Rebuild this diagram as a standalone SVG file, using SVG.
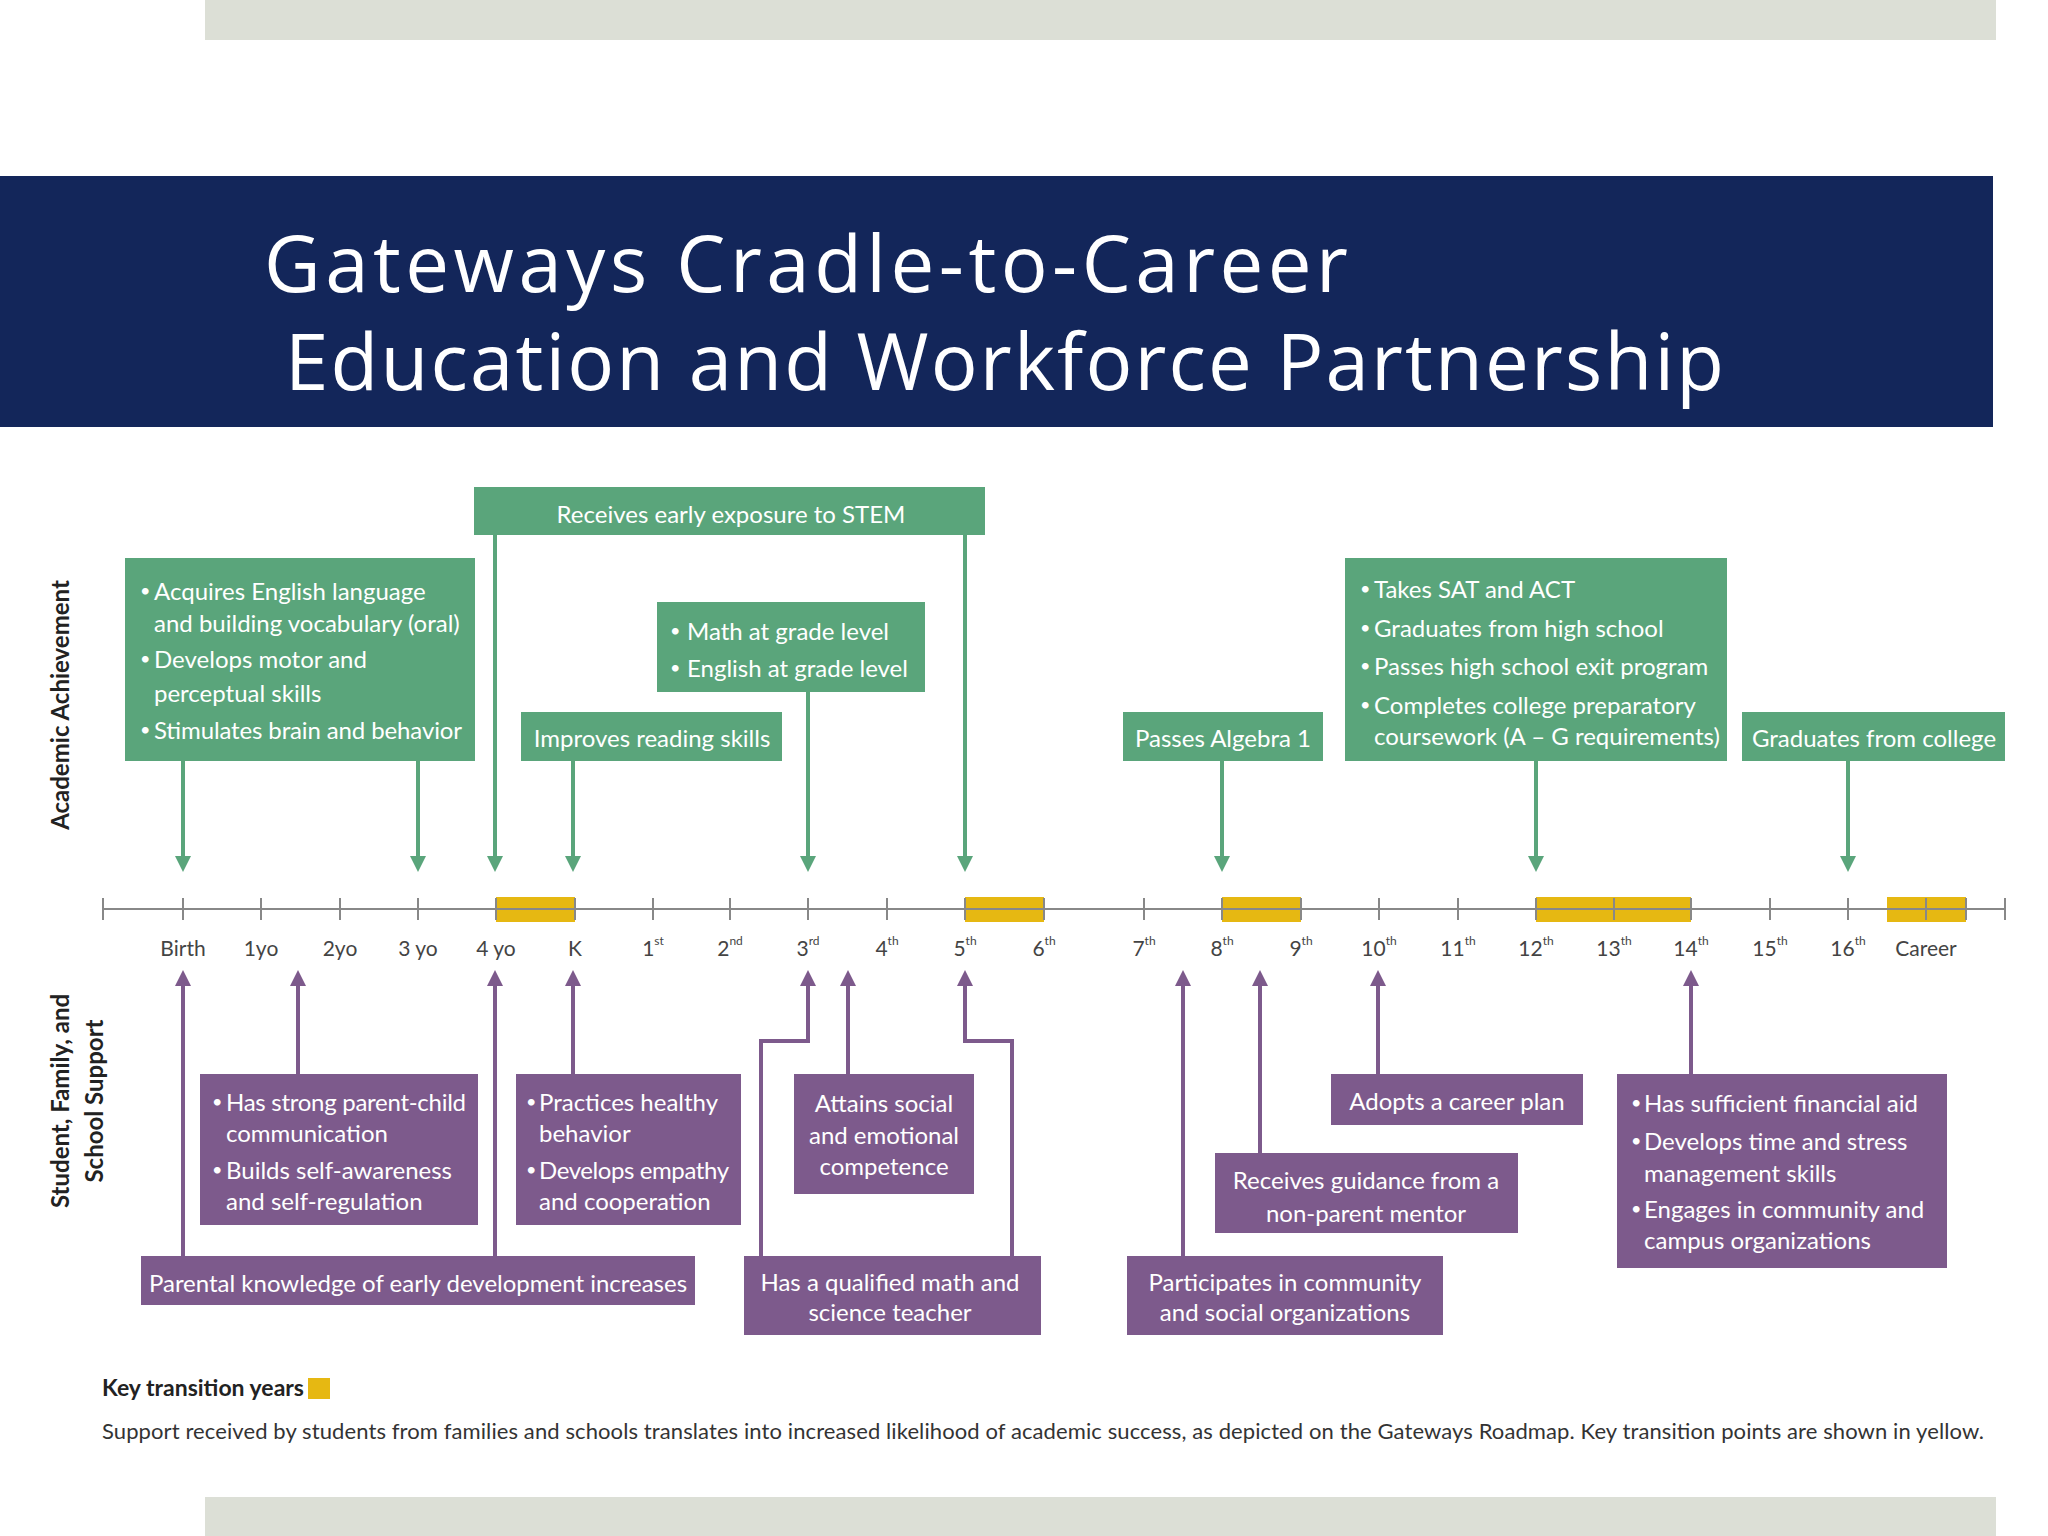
<svg xmlns="http://www.w3.org/2000/svg" width="2048" height="1536" viewBox="0 0 2048 1536">
<style>
.g{fill:#5aa57b}.p{fill:#7d5a8c}.y{fill:#e6b812}
.t{font-family:Lato,"Open Sans",sans-serif;font-size:24px;fill:#fff;dominant-baseline:central}
.b{font-family:Lato,"Open Sans",sans-serif;font-size:18px;fill:#fff;dominant-baseline:central}
.c{text-anchor:middle}
.ga{stroke:#5aa57b;stroke-width:4;fill:none;marker-end:url(#ag)}
.pa{stroke:#7d5a8c;stroke-width:4;fill:none;marker-end:url(#ap)}
.tl{font-family:Lato,"Open Sans",sans-serif;font-size:21px;fill:#444;text-anchor:middle;dominant-baseline:central}
.side{font-family:Lato,"Open Sans",sans-serif;font-size:24px;font-weight:bold;fill:#222;text-anchor:middle}
</style>
<defs>
<marker id="ag" markerWidth="4" markerHeight="4" refX="2" refY="2" orient="auto"><path d="M0,0L4,2L0,4z" fill="#5aa57b"/></marker>
<marker id="ap" markerWidth="4" markerHeight="4" refX="2" refY="2" orient="auto"><path d="M0,0L4,2L0,4z" fill="#7d5a8c"/></marker>
</defs>
<rect width="2048" height="1536" fill="#fff"/>
<rect x="205" y="0" width="1791" height="40" fill="#dcdfd6"/>
<rect x="205" y="1497" width="1791" height="39" fill="#dcdfd6"/>
<rect x="0" y="176" width="1993" height="251" fill="#13265a"/>
<text x="264" y="292" font-family="'Open Sans',Lato,sans-serif" font-size="78" fill="#fff" textLength="1084">Gateways Cradle-to-Career</text>
<text x="285" y="390" font-family="'Open Sans',Lato,sans-serif" font-size="78" fill="#fff" textLength="1439">Education and Workforce Partnership</text>

<text class="side" transform="translate(69,705) rotate(-90)">Academic Achievement</text>
<text class="side" transform="translate(69,1101) rotate(-90)">Student, Family, and</text>
<text class="side" transform="translate(103,1101) rotate(-90)">School Support</text>

<g id="timeline">
<rect class="y" x="496" y="897" width="79" height="25"/><rect class="y" x="965" y="897" width="79" height="25"/><rect class="y" x="1222" y="897" width="79" height="25"/><rect class="y" x="1536" y="897" width="155" height="25"/><rect class="y" x="1887" y="897" width="79" height="25"/>
<line x1="103" y1="909" x2="2005" y2="909" stroke="#888" stroke-width="2"/>
<path stroke="#888" stroke-width="2" d="M103,898v22M183,898v22M261,898v22M340,898v22M418,898v22M496,898v22M575,898v22M653,898v22M730,898v22M808,898v22M887,898v22M965,898v22M1044,898v22M1144,898v22M1222,898v22M1301,898v22M1379,898v22M1458,898v22M1536,898v22M1614,898v22M1691,898v22M1770,898v22M1848,898v22M1926,898v22M1966,898v22M2005,898v22"/>
<text class="tl" x="183" y="947">Birth</text><text class="tl" x="261" y="947">1yo</text><text class="tl" x="340" y="947">2yo</text><text class="tl" x="418" y="947">3 yo</text><text class="tl" x="496" y="947">4 yo</text><text class="tl" x="575" y="947">K</text>
<text class="tl" x="653" y="947">1<tspan font-size="12" dy="-7">st</tspan></text><text class="tl" x="730" y="947">2<tspan font-size="12" dy="-7">nd</tspan></text><text class="tl" x="808" y="947">3<tspan font-size="12" dy="-7">rd</tspan></text><text class="tl" x="887" y="947">4<tspan font-size="12" dy="-7">th</tspan></text><text class="tl" x="965" y="947">5<tspan font-size="12" dy="-7">th</tspan></text><text class="tl" x="1044" y="947">6<tspan font-size="12" dy="-7">th</tspan></text>
<text class="tl" x="1144" y="947">7<tspan font-size="12" dy="-7">th</tspan></text><text class="tl" x="1222" y="947">8<tspan font-size="12" dy="-7">th</tspan></text><text class="tl" x="1301" y="947">9<tspan font-size="12" dy="-7">th</tspan></text><text class="tl" x="1379" y="947">10<tspan font-size="12" dy="-7">th</tspan></text><text class="tl" x="1458" y="947">11<tspan font-size="12" dy="-7">th</tspan></text><text class="tl" x="1536" y="947">12<tspan font-size="12" dy="-7">th</tspan></text><text class="tl" x="1614" y="947">13<tspan font-size="12" dy="-7">th</tspan></text><text class="tl" x="1691" y="947">14<tspan font-size="12" dy="-7">th</tspan></text><text class="tl" x="1770" y="947">15<tspan font-size="12" dy="-7">th</tspan></text><text class="tl" x="1848" y="947">16<tspan font-size="12" dy="-7">th</tspan></text><text class="tl" x="1926" y="947">Career</text>
</g>

<g id="connectors">
<path class="ga" d="M183,761V864"/><path class="ga" d="M418,761V864"/><path class="ga" d="M495,535V864"/><path class="ga" d="M573,761V864"/><path class="ga" d="M808,692V864"/><path class="ga" d="M965,535V864"/><path class="ga" d="M1222,761V864"/><path class="ga" d="M1536,761V864"/><path class="ga" d="M1848,761V864"/>
<path class="pa" d="M183,1256V978"/><path class="pa" d="M298,1074V978"/><path class="pa" d="M495,1256V978"/><path class="pa" d="M573,1074V978"/><path class="pa" d="M761,1256V1041H808V978"/><path class="pa" d="M848,1074V978"/><path class="pa" d="M1012,1256V1041H965V978"/><path class="pa" d="M1183,1256V978"/><path class="pa" d="M1260,1153V978"/><path class="pa" d="M1378,1074V978"/><path class="pa" d="M1691,1074V978"/>
</g>

<g id="a1"><rect class="g" x="125" y="558" width="350" height="203"/>
<text class="b" x="140" y="590">•</text><text class="t" x="154" y="590">Acquires English language</text><text class="t" x="154" y="622">and building vocabulary (oral)</text>
<text class="b" x="140" y="658">•</text><text class="t" x="154" y="658">Develops motor and</text><text class="t" x="154" y="692">perceptual skills</text>
<text class="b" x="140" y="729">•</text><text class="t" x="154" y="729" textLength="308">Stimulates brain and behavior</text></g>
<g id="a2"><rect class="g" x="474" y="487" width="511" height="48"/><text class="t c" x="731" y="513">Receives early exposure to STEM</text></g>
<g id="a3"><rect class="g" x="657" y="602" width="268" height="90"/><text class="b" x="670" y="630">•</text><text class="t" x="687" y="630">Math at grade level</text><text class="b" x="670" y="667">•</text><text class="t" x="687" y="667">English at grade level</text></g>
<g id="a4"><rect class="g" x="521" y="712" width="261" height="49"/><text class="t c" x="652" y="737">Improves reading skills</text></g>
<g id="a5"><rect class="g" x="1123" y="712" width="200" height="49"/><text class="t c" x="1223" y="737">Passes Algebra 1</text></g>
<g id="a6"><rect class="g" x="1345" y="558" width="382" height="203"/>
<text class="b" x="1360" y="588">•</text><text class="t" x="1374" y="588">Takes SAT and ACT</text>
<text class="b" x="1360" y="627">•</text><text class="t" x="1374" y="627">Graduates from high school</text>
<text class="b" x="1360" y="665">•</text><text class="t" x="1374" y="665">Passes high school exit program</text>
<text class="b" x="1360" y="704">•</text><text class="t" x="1374" y="704">Completes college preparatory</text><text class="t" x="1374" y="735">coursework (A – G requirements)</text></g>
<g id="a7"><rect class="g" x="1742" y="712" width="263" height="49"/><text class="t c" x="1874" y="737">Graduates from college</text></g>

<g id="s1"><rect class="p" x="200" y="1074" width="278" height="151"/>
<text class="b" x="212" y="1101">•</text><text class="t" x="226" y="1101" textLength="240">Has strong parent-child</text><text class="t" x="226" y="1132">communication</text>
<text class="b" x="212" y="1169">•</text><text class="t" x="226" y="1169">Builds self-awareness</text><text class="t" x="226" y="1200">and self-regulation</text></g>
<g id="s2"><rect class="p" x="516" y="1074" width="225" height="151"/>
<text class="b" x="526" y="1101">•</text><text class="t" x="539" y="1101">Practices healthy</text><text class="t" x="539" y="1132">behavior</text>
<text class="b" x="526" y="1169">•</text><text class="t" x="539" y="1169" textLength="190">Develops empathy</text><text class="t" x="539" y="1200">and cooperation</text></g>
<g id="s3"><rect class="p" x="794" y="1074" width="180" height="120"/><text class="t c" x="884" y="1102">Attains social</text><text class="t c" x="884" y="1134">and emotional</text><text class="t c" x="884" y="1165">competence</text></g>
<g id="s4"><rect class="p" x="1331" y="1074" width="252" height="51"/><text class="t c" x="1457" y="1100">Adopts a career plan</text></g>
<g id="s5"><rect class="p" x="1215" y="1153" width="303" height="80"/><text class="t c" x="1366" y="1179">Receives guidance from a</text><text class="t c" x="1366" y="1212">non-parent mentor</text></g>
<g id="s6"><rect class="p" x="1617" y="1074" width="330" height="194"/>
<text class="b" x="1631" y="1102">•</text><text class="t" x="1644" y="1102">Has sufficient financial aid</text>
<text class="b" x="1631" y="1140">•</text><text class="t" x="1644" y="1140">Develops time and stress</text><text class="t" x="1644" y="1172">management skills</text>
<text class="b" x="1631" y="1208">•</text><text class="t" x="1644" y="1208">Engages in community and</text><text class="t" x="1644" y="1239">campus organizations</text></g>
<g id="s7"><rect class="p" x="141" y="1256" width="554" height="49"/><text class="t c" x="418" y="1282">Parental knowledge of early development increases</text></g>
<g id="s8"><rect class="p" x="744" y="1256" width="297" height="79"/><text class="t c" x="890" y="1281">Has a qualified math and</text><text class="t c" x="890" y="1311">science teacher</text></g>
<g id="s9"><rect class="p" x="1127" y="1256" width="316" height="79"/><text class="t c" x="1285" y="1281">Participates in community</text><text class="t c" x="1285" y="1311">and social organizations</text></g>

<text x="102" y="1396" font-family="Lato,sans-serif" font-size="23" font-weight="bold" fill="#222">Key transition years</text>
<rect class="y" x="308" y="1378" width="22" height="21"/>
<text x="102" y="1439" font-family="Lato,sans-serif" font-size="22" fill="#333" textLength="1882">Support received by students from families and schools translates into increased likelihood of academic success, as depicted on the Gateways Roadmap. Key transition points are shown in yellow.</text>
</svg>
